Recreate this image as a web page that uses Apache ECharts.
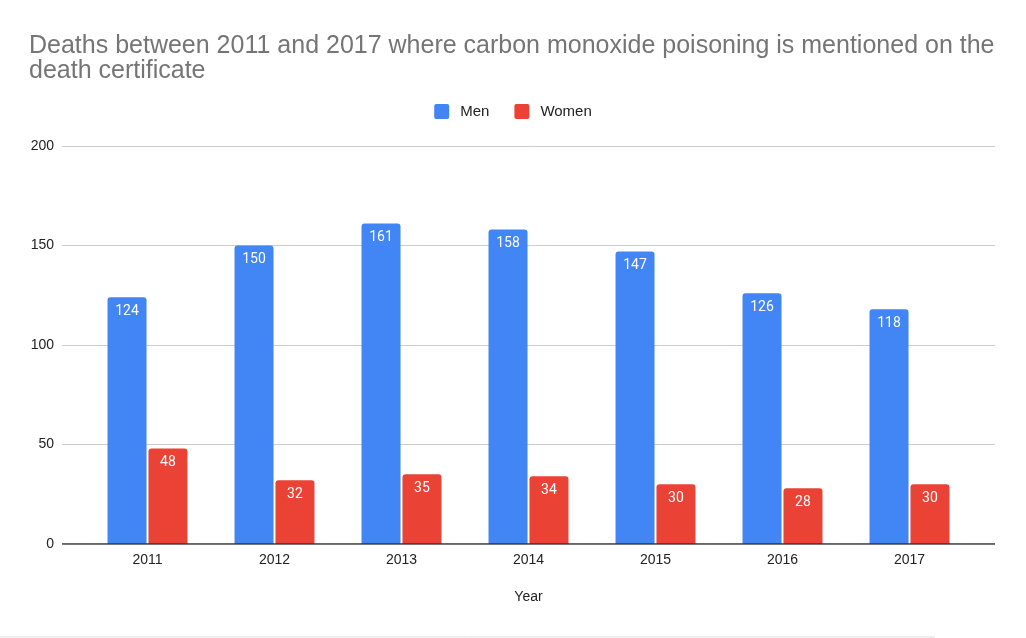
<!DOCTYPE html>
<html>
<head>
<meta charset="utf-8">
<script src="https://cdn.jsdelivr.net/npm/echarts@6/dist/echarts.min.js"></script>
<style>
html, body { margin: 0; padding: 0; background: #fff; }
#main { width: 1026px; height: 638px; }
</style>
</head>
<body>
<div id="main"></div>
<script>
var years = ['2011', '2012', '2013', '2014', '2015', '2016', '2017'];
var men = [124, 150, 161, 158, 147, 126, 118];
var women = [48, 32, 35, 34, 30, 28, 30];

var myChart = echarts.init(document.getElementById('main'));
var font = '"Liberation Sans", Arial, sans-serif';
var labelFont = 'Roboto, Arial, sans-serif';
var option = {
    animation: false,
    textStyle: { fontFamily: font },
    title: {
        text: 'Deaths between 2011 and 2017 where carbon monoxide poisoning is mentioned on the\ndeath certificate',
        left: 24,
        top: 29,
        textStyle: { fontSize: 25, fontWeight: 'normal', color: '#757575', lineHeight: 25, fontFamily: font }
    },
    legend: {
        top: 99,
        left: 'center',
        itemWidth: 15,
        itemHeight: 15,
        itemGap: 25,
        icon: 'path://M2,0 L13,0 Q15,0 15,2 L15,13 Q15,15 13,15 L2,15 Q0,15 0,13 L0,2 Q0,0 2,0 Z',
        textStyle: { fontSize: 15, color: '#222', fontFamily: font, padding: [0, 0, 0, 6] },
        data: ['Men', 'Women']
    },
    grid: [
        // full-width grid that carries the gridlines and y labels
        { left: 62, right: 31, top: 146, bottom: 94, containLabel: false },
        // inner grid with padding, where the bars live
        { left: 84, right: 53, top: 146, bottom: 94, containLabel: false }
    ],
    xAxis: [
        {
            gridIndex: 0, type: 'value', min: 0, max: 1, show: true,
            axisLine: { show: false }, axisTick: { show: false }, axisLabel: { show: false }, splitLine: { show: false }
        },
        {
            gridIndex: 1, type: 'category', data: years,
            axisLine: { show: false }, axisTick: { show: false },
            axisLabel: { fontSize: 14, color: '#222', margin: 9, fontFamily: font },
            name: 'Year', nameLocation: 'middle', nameGap: 46,
            nameTextStyle: { fontSize: 14, color: '#222', fontFamily: font }
        }
    ],
    yAxis: [
        {
            gridIndex: 0, type: 'value', min: 0, max: 200, interval: 50,
            axisLine: { show: false }, axisTick: { show: false },
            axisLabel: { fontSize: 14, color: '#222', margin: 8, fontFamily: font },
            splitLine: { lineStyle: { color: '#cccccc', width: 1 } }
        },
        {
            gridIndex: 1, type: 'value', min: 0, max: 200, interval: 50,
            show: false, splitLine: { show: false }
        }
    ],
    graphic: [
        { type: 'line', shape: { x1: 0, y1: 637, x2: 935, y2: 637 }, style: { stroke: '#dddddd', lineWidth: 1 }, silent: true }
    ],
    series: [
        {
            name: 'Men', type: 'bar', xAxisIndex: 1, yAxisIndex: 1,
            data: men, barWidth: 39, barGap: '5%',
            itemStyle: { color: '#4285F4', borderRadius: [3, 3, 0, 0] },
            label: { show: true, position: 'insideTop', distance: 7, color: '#fff', fontSize: 14, fontFamily: labelFont }
        },
        {
            name: 'Women', type: 'bar', xAxisIndex: 1, yAxisIndex: 1,
            data: women, barWidth: 39,
            itemStyle: { color: '#EA4335', borderRadius: [3, 3, 0, 0] },
            label: { show: true, position: 'insideTop', distance: 7, color: '#fff', fontSize: 14, fontFamily: labelFont }
        },
        {
            // baseline drawn across the full width
            type: 'line', xAxisIndex: 0, yAxisIndex: 0,
            data: [[0, 0], [1, 0]], symbol: 'none', silent: true, z: 5,
            lineStyle: { color: '#333', width: 1.5 }
        }
    ]
};
myChart.setOption(option);
</script>
</body>
</html>
